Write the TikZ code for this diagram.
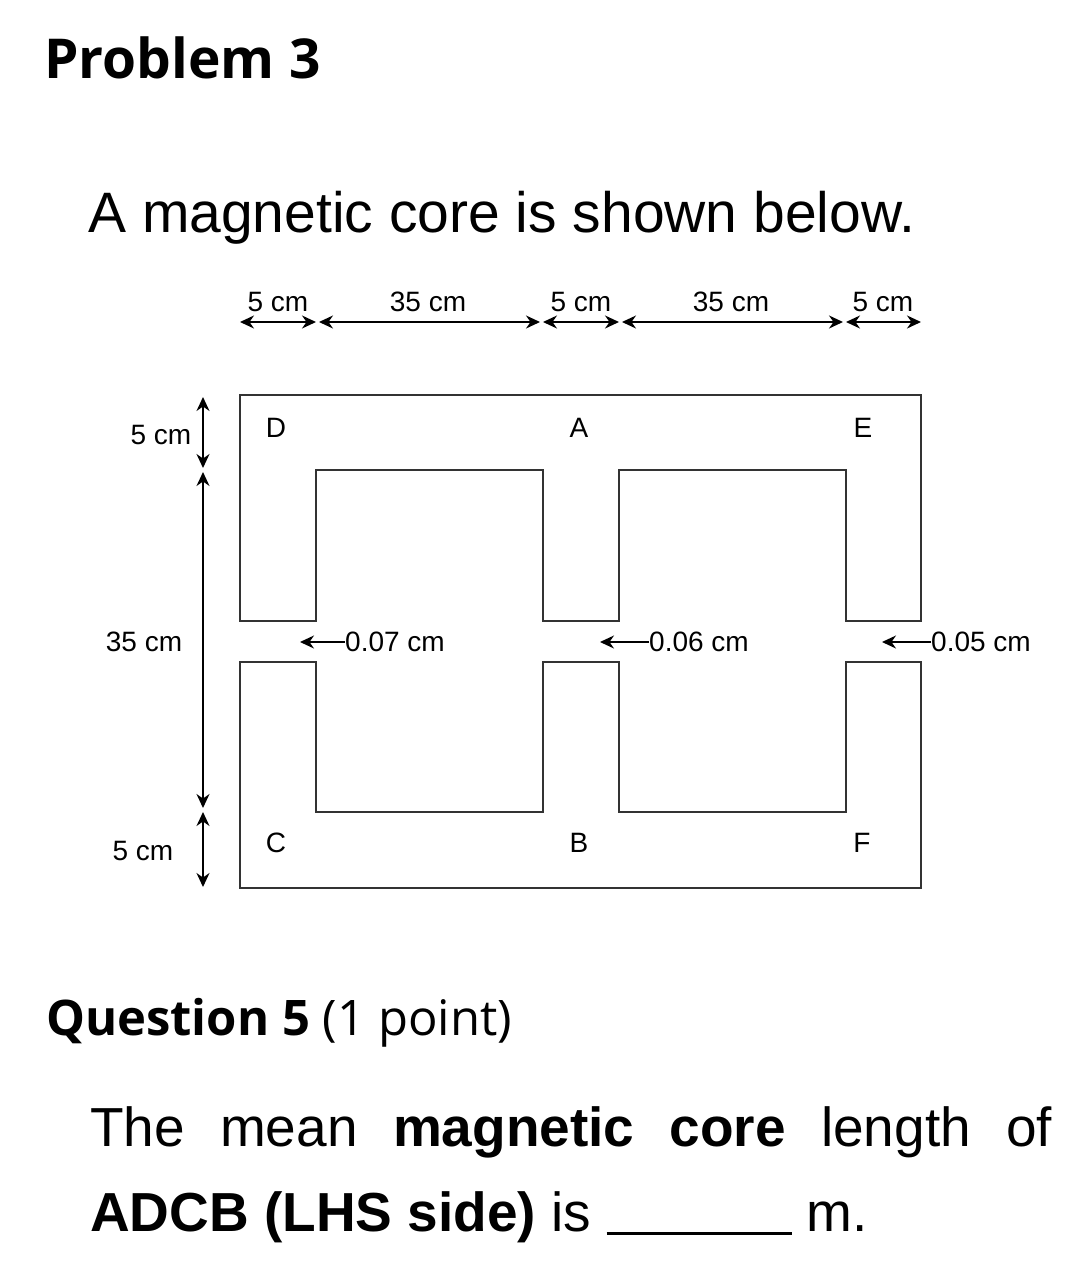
\documentclass[tikz,border=0pt]{standalone}
\usepackage{fontspec}
\setmainfont{Liberation Sans}
\newfontfamily\osans{Open Sans}
\usetikzlibrary{arrows.meta}
\tikzset{core/.style={line width=2pt,draw=black!80},
dim/.style={line width=1.8pt,{Stealth[length=14pt,width=13pt]}-{Stealth[length=14pt,width=13pt]}},
gap/.style={line width=1.8pt,-{Stealth[length=14pt,width=13pt]}},
lbl/.style={font=\fontsize{28}{32}\selectfont,inner sep=0pt}}
\begin{document}
\begin{tikzpicture}[x=1pt,y=-1pt]
\useasboundingbox (0,0) rectangle (1080,1288);
\node[anchor=west,inner sep=0pt,font=\osans\bfseries\fontsize{55}{60}\selectfont] (title) at (44,58) {Problem 3};
\node[anchor=west,inner sep=0pt,font=\fontsize{57}{64}\selectfont] (intro) at (88,218) {A magnetic core is shown below.};
% core
\draw[core] (240,395) -- (921,395) -- (921,621) -- (846,621) -- (846,470) -- (619,470) -- (619,621) -- (543,621) -- (543,470) -- (316,470) -- (316,621) -- (240,621) -- cycle;
\draw[core] (240,888) -- (921,888) -- (921,662) -- (846,662) -- (846,812) -- (619,812) -- (619,662) -- (543,662) -- (543,812) -- (316,812) -- (316,662) -- (240,662) -- cycle;
% top dims
\foreach \a/\b/\n in {240/316/t1,319/540/t2,543/619/t3,622/843/t4,846/921/t5}{
  \coordinate (\n a) at (\a,322); \coordinate (\n b) at (\b,322);
  \draw[dim] (\n a) -- (\n b);}
\node[lbl] (l1) at (278,302) {5 cm};
\node[lbl] (l2) at (428,302) {35 cm};
\node[lbl] (l3) at (581,302) {5 cm};
\node[lbl] (l4) at (731,302) {35 cm};
\node[lbl] (l5) at (883,302) {5 cm};
% left dims
\foreach \a/\b/\n in {397/468/v1,472/808/v2,812/887/v3}{
  \coordinate (\n a) at (203,\a); \coordinate (\n b) at (203,\b);
  \draw[dim] (\n a) -- (\n b);}
\node[lbl] (m1) at (161,435) {5 cm};
\node[lbl] (m2) at (144,642) {35 cm};
\node[lbl] (m3) at (143,851) {5 cm};
% gaps
\node[lbl,anchor=west] (g1) at (345,642) {0.07 cm};
\node[lbl,anchor=west] (g2) at (649,642) {0.06 cm};
\node[lbl,anchor=west] (g3) at (931,642) {0.05 cm};
\coordinate (p1) at (300,642); \coordinate (p2) at (600,642); \coordinate (p3) at (882,642);
\draw[gap] (g1.west) -- (p1); \draw[gap] (g2.west) -- (p2); \draw[gap] (g3.west) -- (p3);
% letters
\foreach \t/\x/\y in {D/276/428,A/579/428,E/863/428,C/276/843,B/579/843,F/862/843}
  \node[lbl] (n\t) at (\x,\y) {\t};
\node[anchor=west,inner sep=0pt,font=\osans\fontsize{49}{54}\selectfont] (q) at (46,1023) {\textbf{Question 5} (1 point)};
\node[anchor=north west,inner sep=0pt,text width=962pt,align=justify,font=\fontsize{55}{85}\selectfont] (body) at (90,1106)
 {The mean \textbf{magnetic core} length of\linebreak \textbf{ADCB (LHS side)} is \rule[-4pt]{185pt}{3pt} m.};
\end{tikzpicture}
\end{document}
